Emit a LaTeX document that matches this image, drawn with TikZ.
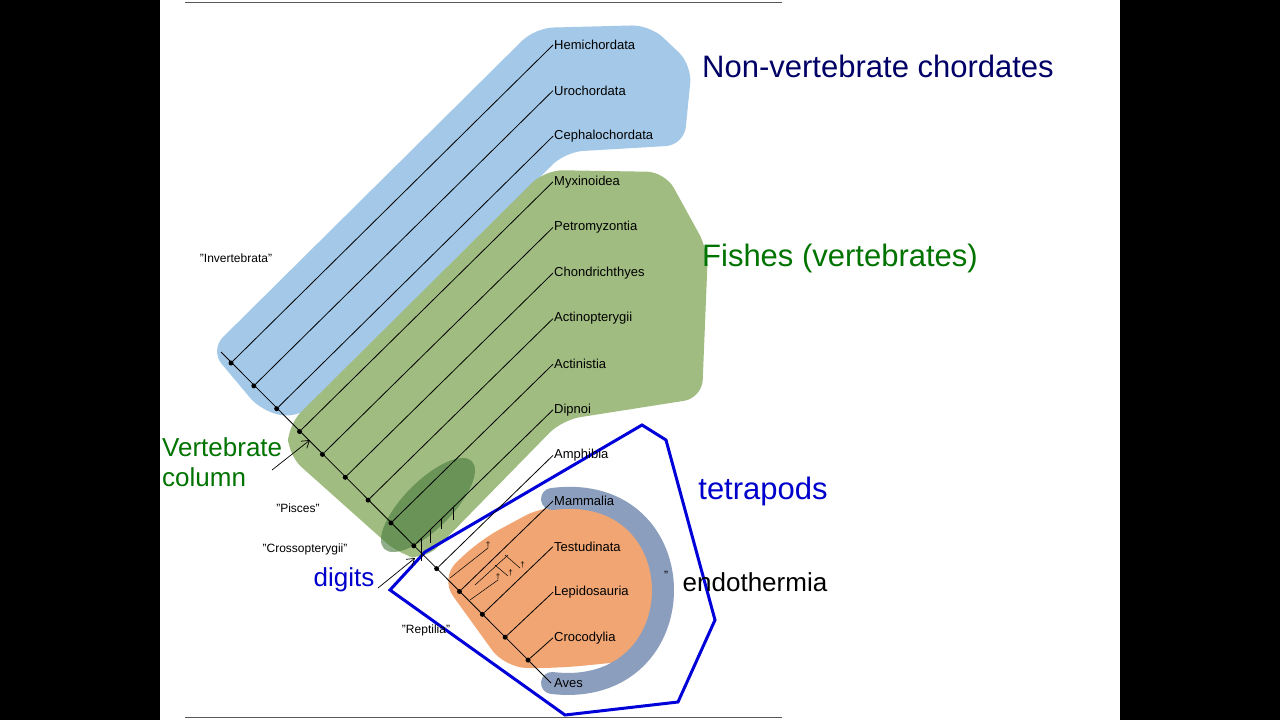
\documentclass[tikz,border=0pt]{standalone}
\usepackage{fontspec}
\setmainfont{Liberation Sans}
\usetikzlibrary{calc,arrows.meta}
\definecolor{cblue}{RGB}{164,200,232}
\definecolor{cgreen}{RGB}{160,188,128}
\definecolor{cdgreen}{RGB}{70,120,60}
\definecolor{corange}{RGB}{240,165,115}
\definecolor{cgrey}{RGB}{140,158,190}
\begin{document}
\begin{tikzpicture}[x=1pt,y=-1pt,
  lab/.style={anchor=west,font=\fontsize{13}{15}\selectfont,inner sep=1pt},
  glab/.style={font=\fontsize{12}{14}\selectfont,inner sep=1pt},
  big/.style={font=\fontsize{31}{36}\selectfont,inner sep=0pt},
  mid/.style={font=\fontsize{26}{30}\selectfont,inner sep=0pt},
  dot/.style={circle,fill=black,inner sep=0pt,minimum size=5pt},
  br/.style={line width=0.8pt},
  arr/.style={-{Straight Barb[length=7pt,width=9pt]},line width=0.7pt},
  dag/.style={font=\fontsize{8}{8}\selectfont,inner sep=0pt}]
\fill[black] (0,0) rectangle (1280,720);
\fill[white] (160,0) rectangle (1120,720);
\draw[gray!70!black,line width=1pt] (185,2) -- (782,2);
\draw[gray!70!black,line width=1pt] (185,717) -- (782,717);
% blobs
\fill[cblue,rounded corners=18pt] (210,350) -- (535,28) -- (650,25) -- (692,65) -- (684,145) -- (565,152) -- (300,418) -- (262,412) -- cycle;
\fill[cgreen,rounded corners=18pt] (288,425) -- (545,170) -- (665,172) -- (708,250) -- (702,398) -- (562,420) -- (425,560) -- (400,555) -- (288,455) -- cycle;
\fill[cdgreen,opacity=0.6,rotate around={45:(428,505)}] (428,505) ellipse (62 and 24);
\fill[corange,rounded corners=22pt] (440,578) -- (480,540) -- (545,505) -- (645,515) -- (662,600) -- (640,660) -- (560,668) -- (505,668) -- cycle;
\draw[cgrey,line width=22pt,line cap=round] (552,499) .. controls (700,480) and (700,700) .. (552,683);
\draw[blue!85!black,line width=3pt] (425,552) -- (642,425) -- (666,440) -- (715,620) -- (678,702) -- (565,715) -- (390,590) -- cycle;
% spine
\coordinate (s0) at (221,352);
\draw[br] (s0) -- (551,683) coordinate (aves);
\foreach \n/\t [count=\k from 0] in {Hemichordata/Hemichordata,Urochordata/Urochordata,Cephalochordata/Cephalochordata,Myxinoidea/Myxinoidea,Petromyzontia/Petromyzontia,Chondrichthyes/Chondrichthyes,Actinopterygii/Actinopterygii,Actinistia/Actinistia,Dipnoi/Dipnoi,Amphibia/Amphibia,Mammalia/Mammalia,Testudinata/Testudinata,Lepidosauria/Lepidosauria,Crocodylia/Crocodylia}{
  \node[dot] (d\k) at ({231+22.85*\k},{363+22.85*\k}) {};
  \node[lab] (\n) at (553,{45+45.6*\k}) {\t};
  \draw[br] (d\k) -- (\n.west);
}
\node[lab] (Aves) at (553,683) {Aves};
% fossil ticks
\foreach \a/\l in {0.05/22,0.12/14,0.2/10,0.28/12}{
  \draw[line width=0.5pt] ($(d8)!\a!(Dipnoi.west)$) -- ++(0,\l);}
\draw[line width=0.5pt] (450,578) -- (488,548) node[dag,above]{†};
\draw[line width=0.5pt] (475,585) -- (508,555);
\draw[line width=0.5pt] (505,555) -- (520,568) node[dag,above right]{†};
\draw[line width=0.5pt] (495,565) -- (508,576) node[dag,above right]{†};
\draw[line width=0.5pt] (470,600) -- (498,580) node[dag,above]{†};
% texts
\node[big,text=blue!40!black] (nvc) at (878,66) {Non-vertebrate chordates};
\node[big,text=green!45!black] (fish) at (840,258) {Fishes (vertebrates)};
\node[big,text=blue!80!black] (tet) at (763,491) {tetrapods};
\node[mid] (endo) at (755,582) {endothermia};
\node[glab] (q) at (666,575) {\symbol{34}};
\node[mid,text=green!45!black,align=left,anchor=west] (vc) at (162,462) {Vertebrate\\column};
\node[mid,text=blue!80!black] (dig) at (344,580) {digits};
\node[glab] (inv) at (236,258) {\symbol{34}Invertebrata\symbol{34}};
\node[glab] (pis) at (298,508) {\symbol{34}Pisces\symbol{34}};
\node[glab] (cro) at (305,549) {\symbol{34}Crossopterygii\symbol{34}};
\node[glab] (rep) at (426,630) {\symbol{34}Reptilia\symbol{34}};
\draw[arr] (272,470) -- (310,440);
\draw[arr] (378,588) -- (415,558);
\end{tikzpicture}
\end{document}
